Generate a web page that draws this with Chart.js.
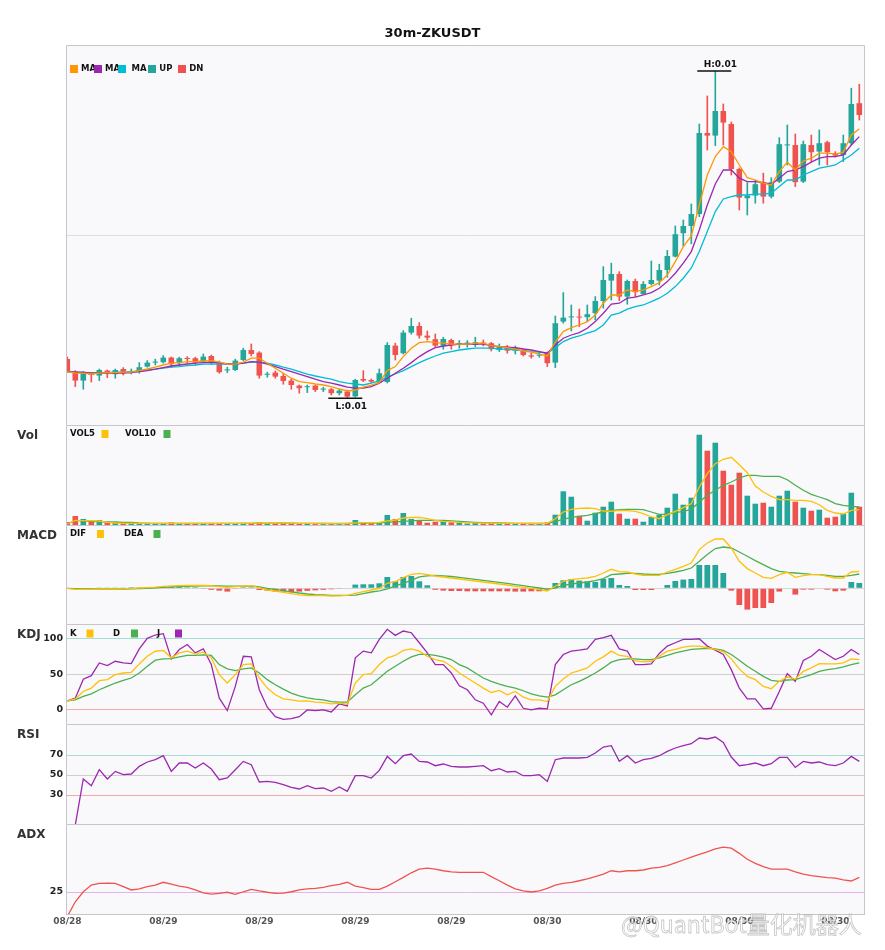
<!DOCTYPE html>
<html>
<head>
<meta charset="utf-8">
<title>30m-ZKUSDT</title>
<script src="https://cdn.jsdelivr.net/npm/chart.js@4.4.1/dist/chart.umd.min.js"></script>
<style>
  body { margin: 0; background: #fff; width: 885px; height: 950px; overflow: hidden; position: relative; }
  canvas { position: absolute; left: 0; }
  #wm { position: absolute; left: 621px; top: 906px; font: 23px "Noto Sans CJK SC", sans-serif;
        color: rgba(255,255,255,0.85); -webkit-text-stroke: 0.8px rgba(150,150,150,0.55); white-space: nowrap; }
</style>
</head>
<body>
<canvas id="cMain" width="885" height="425" style="top:0"></canvas>
<canvas id="cVol" width="885" height="100" style="top:425px"></canvas>
<canvas id="cMacd" width="885" height="99" style="top:525px"></canvas>
<canvas id="cKdj" width="885" height="100" style="top:624px"></canvas>
<canvas id="cRsi" width="885" height="100" style="top:724px"></canvas>
<canvas id="cAdx" width="885" height="126" style="top:824px"></canvas>
<div id="wm">@QuantBot量化机器人</div>
<script>
// ---- data (30m candles, 08/28 - 08/30) ----
const TICK_IDX = [0, 12, 24, 36, 48, 60, 72, 84, 96];
const TICK_LABELS = ['08/28', '08/29', '08/29', '08/29', '08/29', '08/30', '08/30', '08/30', '08/30'];

const OPEN = [
  0.009385, 0.009322, 0.009277, 0.009310, 0.009302, 0.009327, 0.009309, 0.009335, 0.009320, 0.009325,
  0.009347, 0.009367, 0.009369, 0.009392, 0.009364, 0.009390, 0.009389, 0.009372, 0.009400, 0.009369,
  0.009328, 0.009330, 0.009380, 0.009430, 0.009417, 0.009306, 0.009317, 0.009300, 0.009277, 0.009252,
  0.009244, 0.009252, 0.009232, 0.009234, 0.009214, 0.009222, 0.009198, 0.009285, 0.009280, 0.009267,
  0.009270, 0.009452, 0.009414, 0.009517, 0.009550, 0.009502, 0.009484, 0.009452, 0.009480, 0.009460,
  0.009462, 0.009455, 0.009467, 0.009464, 0.009430, 0.009447, 0.009427, 0.009430, 0.009403, 0.009402,
  0.009417, 0.009367, 0.009572, 0.009593, 0.009595, 0.009594, 0.009614, 0.009675, 0.009777, 0.009810,
  0.009697, 0.009775, 0.009710, 0.009760, 0.009777, 0.009830, 0.009897, 0.010014, 0.010050, 0.010110,
  0.010515, 0.010502, 0.010625, 0.010560, 0.010335, 0.010189, 0.010202, 0.010267, 0.010197, 0.010272,
  0.010453, 0.010455, 0.010272, 0.010455, 0.010422, 0.010469, 0.010414, 0.010405, 0.010464, 0.010664
];
const HIGH = [
  0.009395, 0.009327, 0.009322, 0.009315, 0.009335, 0.009330, 0.009335, 0.009342, 0.009335, 0.009367,
  0.009377, 0.009384, 0.009402, 0.009395, 0.009394, 0.009397, 0.009394, 0.009410, 0.009405, 0.009375,
  0.009344, 0.009384, 0.009439, 0.009460, 0.009422, 0.009319, 0.009325, 0.009314, 0.009285, 0.009255,
  0.009255, 0.009255, 0.009244, 0.009238, 0.009234, 0.009230, 0.009284, 0.009327, 0.009285, 0.009335,
  0.009467, 0.009464, 0.009527, 0.009589, 0.009567, 0.009525, 0.009510, 0.009494, 0.009485, 0.009477,
  0.009477, 0.009494, 0.009480, 0.009468, 0.009460, 0.009453, 0.009450, 0.009435, 0.009414, 0.009417,
  0.009420, 0.009600, 0.009717, 0.009655, 0.009635, 0.009655, 0.009697, 0.009847, 0.009864, 0.009822,
  0.009780, 0.009785, 0.009772, 0.009875, 0.009859, 0.009928, 0.010050, 0.010080, 0.010160, 0.010560,
  0.010700, 0.010823, 0.010660, 0.010570, 0.010340, 0.010267, 0.010280, 0.010314, 0.010292, 0.010492,
  0.010555, 0.010510, 0.010475, 0.010505, 0.010530, 0.010475, 0.010422, 0.010505, 0.010739, 0.010759
];
const LOW = [
  0.009320, 0.009247, 0.009234, 0.009270, 0.009277, 0.009292, 0.009289, 0.009305, 0.009310, 0.009314,
  0.009344, 0.009355, 0.009364, 0.009344, 0.009352, 0.009364, 0.009355, 0.009367, 0.009359, 0.009314,
  0.009317, 0.009327, 0.009377, 0.009400, 0.009289, 0.009294, 0.009289, 0.009259, 0.009234, 0.009214,
  0.009217, 0.009222, 0.009222, 0.009205, 0.009205, 0.009193, 0.009195, 0.009272, 0.009267, 0.009265,
  0.009265, 0.009380, 0.009410, 0.009509, 0.009489, 0.009480, 0.009447, 0.009434, 0.009434, 0.009439,
  0.009444, 0.009447, 0.009450, 0.009425, 0.009422, 0.009414, 0.009410, 0.009400, 0.009389, 0.009394,
  0.009347, 0.009342, 0.009564, 0.009525, 0.009547, 0.009572, 0.009580, 0.009639, 0.009680, 0.009677,
  0.009659, 0.009697, 0.009708, 0.009755, 0.009755, 0.009794, 0.009895, 0.009949, 0.009961, 0.010097,
  0.010430, 0.010452, 0.010455, 0.010305, 0.010130, 0.010105, 0.010164, 0.010164, 0.010190, 0.010267,
  0.010355, 0.010247, 0.010267, 0.010372, 0.010355, 0.010355, 0.010395, 0.010372, 0.010455, 0.010580
];
const CLOSE = [
  0.009325, 0.009277, 0.009317, 0.009305, 0.009330, 0.009314, 0.009330, 0.009317, 0.009323, 0.009344,
  0.009367, 0.009370, 0.009392, 0.009359, 0.009389, 0.009385, 0.009367, 0.009397, 0.009369, 0.009319,
  0.009331, 0.009377, 0.009430, 0.009410, 0.009302, 0.009310, 0.009297, 0.009275, 0.009255, 0.009239,
  0.009247, 0.009230, 0.009234, 0.009214, 0.009227, 0.009197, 0.009280, 0.009277, 0.009272, 0.009314,
  0.009455, 0.009405, 0.009517, 0.009550, 0.009502, 0.009492, 0.009452, 0.009485, 0.009455, 0.009464,
  0.009465, 0.009469, 0.009460, 0.009434, 0.009447, 0.009427, 0.009442, 0.009405, 0.009397, 0.009405,
  0.009364, 0.009564, 0.009592, 0.009594, 0.009592, 0.009609, 0.009675, 0.009780, 0.009810, 0.009697,
  0.009775, 0.009719, 0.009760, 0.009780, 0.009830, 0.009900, 0.010009, 0.010050, 0.010110, 0.010515,
  0.010502, 0.010625, 0.010567, 0.010335, 0.010192, 0.010202, 0.010259, 0.010197, 0.010269, 0.010459,
  0.010455, 0.010269, 0.010459, 0.010419, 0.010464, 0.010419, 0.010402, 0.010464, 0.010660, 0.010605
];
const MA5 = [
  0.009322, 0.009314, 0.009314, 0.009310, 0.009314, 0.009317, 0.009317, 0.009319, 0.009319, 0.009327,
  0.009335, 0.009344, 0.009355, 0.009364, 0.009367, 0.009372, 0.009372, 0.009375, 0.009377, 0.009369,
  0.009359, 0.009359, 0.009369, 0.009389, 0.009389, 0.009364, 0.009339, 0.009314, 0.009289, 0.009272,
  0.009267, 0.009260, 0.009255, 0.009247, 0.009235, 0.009225, 0.009230, 0.009244, 0.009254, 0.009267,
  0.009327, 0.009347, 0.009397, 0.009439, 0.009467, 0.009472, 0.009467, 0.009464, 0.009459, 0.009459,
  0.009459, 0.009464, 0.009464, 0.009452, 0.009447, 0.009442, 0.009434, 0.009425, 0.009419, 0.009409,
  0.009400, 0.009470, 0.009522, 0.009542, 0.009555, 0.009572, 0.009605, 0.009664, 0.009705, 0.009705,
  0.009730, 0.009722, 0.009730, 0.009747, 0.009767, 0.009805, 0.009872, 0.009947, 0.010000, 0.010155,
  0.010305, 0.010397, 0.010447, 0.010422, 0.010355, 0.010292, 0.010280, 0.010264, 0.010255, 0.010322,
  0.010369, 0.010330, 0.010375, 0.010389, 0.010414, 0.010414, 0.010409, 0.010419, 0.010505, 0.010535
];
const MA10 = [
  0.009322, 0.009319, 0.009319, 0.009314, 0.009314, 0.009314, 0.009314, 0.009314, 0.009317, 0.009322,
  0.009327, 0.009334, 0.009342, 0.009350, 0.009355, 0.009360, 0.009364, 0.009367, 0.009369, 0.009367,
  0.009360, 0.009360, 0.009364, 0.009372, 0.009369, 0.009359, 0.009347, 0.009334, 0.009322, 0.009309,
  0.009297, 0.009284, 0.009272, 0.009264, 0.009255, 0.009244, 0.009239, 0.009239, 0.009247, 0.009264,
  0.009289, 0.009314, 0.009339, 0.009367, 0.009397, 0.009422, 0.009442, 0.009450, 0.009455, 0.009459,
  0.009459, 0.009460, 0.009459, 0.009452, 0.009447, 0.009444, 0.009442, 0.009435, 0.009430, 0.009422,
  0.009414, 0.009455, 0.009489, 0.009505, 0.009517, 0.009539, 0.009572, 0.009614, 0.009660, 0.009664,
  0.009689, 0.009694, 0.009705, 0.009717, 0.009739, 0.009772, 0.009814, 0.009864, 0.009922, 0.010030,
  0.010155, 0.010260, 0.010330, 0.010330, 0.010289, 0.010272, 0.010272, 0.010267, 0.010259, 0.010289,
  0.010322, 0.010330, 0.010347, 0.010369, 0.010389, 0.010397, 0.010397, 0.010405, 0.010455, 0.010497
];
const MA20 = [
  0.009322, 0.009319, 0.009317, 0.009317, 0.009317, 0.009317, 0.009319, 0.009319, 0.009322, 0.009325,
  0.009330, 0.009334, 0.009339, 0.009344, 0.009347, 0.009352, 0.009355, 0.009359, 0.009360, 0.009360,
  0.009359, 0.009359, 0.009364, 0.009369, 0.009369, 0.009364, 0.009355, 0.009344, 0.009334, 0.009322,
  0.009309, 0.009300, 0.009292, 0.009284, 0.009272, 0.009264, 0.009260, 0.009255, 0.009264, 0.009275,
  0.009294, 0.009310, 0.009327, 0.009347, 0.009367, 0.009384, 0.009400, 0.009414, 0.009422, 0.009430,
  0.009435, 0.009439, 0.009439, 0.009439, 0.009435, 0.009434, 0.009430, 0.009427, 0.009422, 0.009419,
  0.009414, 0.009442, 0.009472, 0.009489, 0.009500, 0.009514, 0.009527, 0.009555, 0.009605, 0.009614,
  0.009634, 0.009647, 0.009655, 0.009672, 0.009689, 0.009714, 0.009747, 0.009789, 0.009840, 0.009922,
  0.010022, 0.010122, 0.010185, 0.010197, 0.010205, 0.010205, 0.010209, 0.010209, 0.010214, 0.010247,
  0.010280, 0.010280, 0.010305, 0.010322, 0.010339, 0.010347, 0.010355, 0.010380, 0.010405, 0.010439
];

// volume (relative units)
const VOL = [
  3, 9, 6, 3, 5, 2.3, 2.7, 2.3, 1.5, 2,
  2.2, 1.3, 1.8, 2.5, 1.5, 1.2, 1.6, 1.8, 1.5, 2,
  1.2, 1.8, 2.2, 1.5, 2.8, 1.2, 1.5, 2.2, 1.8, 1.5,
  1.2, 1.5, 1.2, 1.6, 1.4, 1.8, 5, 1.8, 1.5, 2.5,
  10, 6, 12, 6, 5, 2.3, 3.3, 4, 2.7, 2.3,
  1.5, 2, 1.3, 2, 1.5, 1.8, 1.3, 1.8, 1.2, 1.5,
  2.5, 10.3, 33.7, 28.3, 9.3, 4.3, 12.3, 18.3, 23.3, 11.3,
  6.3, 6.3, 3.3, 8, 10.3, 17.3, 31.3, 20.3, 27.3, 90.3,
  74.3, 82.3, 54.3, 40.3, 52.3, 29.3, 21.3, 22.3, 18.3, 29.3,
  34.3, 23.3, 17.3, 14.3, 15.3, 7.3, 8.3, 11.3, 32.3, 18.3
];
const VOL5 = [
  1, 4.7, 4.3, 4.3, 4, 2.7, 2, 1.7, 1.7, 1.7,
  1.7, 1.7, 1.7, 1.7, 1.7, 1.6, 1.6, 1.6, 1.6, 1.6,
  1.6, 1.6, 1.7, 1.8, 2, 2, 2, 2, 1.8, 1.7,
  1.6, 1.5, 1.5, 1.4, 1.4, 1.5, 2.2, 2.3, 2.3, 2.5,
  4.2, 5, 7, 7.5, 7.7, 6.3, 4.7, 3.7, 3.3, 2.7,
  2.4, 2.2, 1.8, 1.8, 1.6, 1.6, 1.6, 1.6, 1.5, 1.5,
  1.7, 6.3, 13, 15.7, 16.7, 17, 16.3, 14, 13.7, 14.7,
  14.3, 13.7, 11.3, 8, 6.3, 10.3, 13.7, 17.3, 21.3, 38,
  51.3, 61.3, 65.7, 67.7, 60.3, 52.3, 39, 33, 28.7, 25.3,
  25.3, 24.7, 24.7, 23.7, 20.3, 14.7, 12, 11, 14.7, 15.3
];
const VOL10 = [
  1, 4.3, 4.3, 3.3, 3.3, 3, 3, 2.7, 2.7, 2,
  1.7, 1.5, 1.5, 1.5, 1.5, 1.5, 1.5, 1.5, 1.5, 1.6,
  1.6, 1.6, 1.6, 1.7, 1.8, 1.8, 1.8, 1.8, 1.8, 1.7,
  1.7, 1.6, 1.6, 1.5, 1.5, 1.5, 1.8, 1.9, 2, 2.2,
  2.7, 3.2, 3.7, 4.2, 4.7, 4.7, 4.7, 4.5, 4, 3.5,
  3, 2.6, 2.3, 2.1, 2, 1.8, 1.7, 1.6, 1.5, 1.5,
  1.5, 3.7, 5.7, 7.7, 8.7, 9.7, 11.3, 13, 14.3, 15.3,
  15.7, 15.7, 15.3, 13, 10.7, 10.7, 12.3, 13.7, 15.7, 23,
  29.7, 34.7, 39.7, 43, 47, 49.7, 49.7, 48.7, 48.7, 48.7,
  45.3, 39.7, 34.7, 30.7, 28, 25.3, 21.3, 19.7, 18.7, 18
];

// MACD (relative units)
const DIF = [
  0, -1, -1, -1, -0.7, -0.7, -0.7, -0.5, 0, 0.3,
  0.7, 1.2, 2, 2.5, 2.7, 2.8, 2.8, 3, 2.7, 1.7,
  1, 1.7, 2.3, 2.7, 0.5, -1.7, -2.7, -4, -5.3, -6.5,
  -7.2, -7.3, -7.3, -7.7, -7.5, -7, -5, -3.3, -1.7, 0,
  5, 6.7, 10.7, 14, 15, 13.7, 12.3, 11.3, 10.3, 9.3,
  8.3, 7.3, 6.3, 5.3, 4.3, 3.3, 2, 1, 0, -1.3,
  -2.7, 2, 7, 8.7, 9.7, 10.3, 12, 15.3, 19, 16.7,
  16.3, 14.3, 13, 13, 13, 16.3, 19, 22, 25.3, 38.7,
  45.3, 49.3, 49.3, 40.3, 27, 19.7, 15.3, 11, 10, 13.7,
  16, 11, 12.7, 13.7, 13.7, 12, 10.3, 10.3, 16.3, 17
];
const DEA = [
  0, -0.3, -0.5, -0.6, -0.7, -0.7, -0.7, -0.7, -0.5, -0.3,
  0, 0.5, 1, 1.3, 1.7, 2, 2.3, 2.5, 2.7, 2.5,
  2.2, 2.1, 2.2, 2.3, 1.5, 0, -1, -2.3, -3.5, -4.7,
  -5.7, -6.3, -6.7, -7, -7.1, -7, -6.8, -5.3, -3.7, -2.5,
  -0.7, 2.5, 5, 8, 11.5, 12.5, 13, 12.5, 11.8, 10.9,
  9.9, 8.9, 7.9, 6.9, 5.9, 4.9, 3.7, 2.6, 1.5, 0.3,
  -0.9, 0.3, 3, 4.3, 5.3, 6.3, 7.7, 9.7, 13.7, 14.3,
  15, 15, 14.3, 14, 14, 15, 16.3, 18, 20.3, 27,
  33.7, 39.7, 41.3, 40.3, 36.3, 32, 27.7, 23.7, 19.7, 17,
  16, 15.3, 14.7, 14, 13.7, 13, 12, 12, 13, 14.3
];
const MACD = [
  -0.7, -0.7, -0.7, -0.7, 0.7, 0.7, 0.7, 0.7, 1, 1,
  1.3, 1.3, 1.3, 1.3, 1.3, 1, 1, -0.7, -1.5, -2.3,
  -3.3, -0.7, 1, 1, -1.7, -2.3, -3.3, -3.3, -4, -3.3,
  -2.5, -2, -1.5, -1, -0.7, 0, 3.7, 4, 4, 5,
  11.3, 7, 11.3, 12.3, 7, 3, -1.5, -2.3, -2.7, -2.7,
  -3, -3, -3, -3, -3, -3, -3.3, -3.3, -3, -3,
  -1.3, 5.3, 8, 9.3, 7.7, 7, 6.3, 9.3, 10.3, 3.3,
  2.3, -1.7, -1.7, -1.7, 0, 3.3, 7.3, 8.7, 9.3, 23.3,
  23.3, 23.3, 15.3, -2.3, -16.7, -21.3, -19.7, -19.7, -14.7, -3.3,
  0, -6.3, -1.3, -1.3, 0, -1.3, -3, -2.3, 6.3, 5.3
];

// KDJ
const K = [
  12.7, 15.4, 25.8, 30.5, 40.8, 42.3, 49.3, 51.6, 52.6, 64.3,
  75, 82, 83.1, 72.8, 79.8, 82.2, 78.4, 80.8, 72.8, 49.3,
  37.6, 49.3, 63.4, 64.3, 44.6, 30.5, 21.1, 15.5, 14.1, 12.2,
  12.7, 10.8, 10.3, 8.5, 9.4, 8, 37.6, 49.3, 50.7, 63.4,
  72.8, 76.1, 83.1, 85.4, 82.2, 75, 70.4, 68, 61, 51.6,
  44.6, 37.6, 30.5, 24.4, 27.2, 21.1, 25.8, 17.8, 14.1, 14.1,
  11.7, 32.9, 43.2, 51.6, 54.9, 58.7, 68, 74.2, 82.2, 76.1,
  75, 69, 67.1, 68, 75, 82.2, 84.5, 87.8, 89.2, 89.2,
  86.9, 84.5, 81.2, 71.4, 57.3, 46.9, 42.3, 32.9, 29.6, 39.9,
  46, 43.2, 54, 58.7, 64.8, 64.3, 64.3, 65.7, 71.4, 70.4
];
const D = [
  12.7, 14, 18.8, 22.5, 28.2, 32.9, 37.6, 41.3, 44.6, 51.6,
  61, 69.5, 71.4, 71.8, 74.2, 76.1, 76.1, 77, 76.1, 63.4,
  57.3, 54.9, 57.3, 58.7, 51.6, 42.3, 35.2, 29.1, 23.5, 19.7,
  16.9, 15.1, 14.1, 11.7, 10.8, 10.8, 21.1, 30.5, 35.2, 44.6,
  54, 61, 68, 74.2, 77.5, 77.5, 76.1, 73.7, 70.4, 63.4,
  58.7, 51.6, 44.6, 39.9, 36.2, 32.9, 30.5, 26.8, 22.5, 19.7,
  17.8, 21.1, 28.2, 35.2, 39.9, 45.5, 51.6, 58.7, 66.7, 70.4,
  71.4, 71.4, 70.4, 70.4, 72.8, 76.1, 79.8, 82.2, 84.5, 85.4,
  86, 85.4, 83.1, 77.5, 69.5, 61, 54, 46.9, 41.3, 39.9,
  41.8, 42.3, 46, 49.3, 54, 56.3, 57.7, 60.1, 63.4, 65.7
];
const J = [
  12.7, 16.4, 43, 47.9, 65.7, 62, 68, 65.7, 64.8, 85.4,
  100, 104.7, 106.6, 71.4, 84.5, 91.5, 79.8, 85.4, 63.4, 16.4,
  -1, 32.9, 75, 74.2, 28.2, 3.8, -9.4, -13.1, -12.2, -9.4,
  0, -1, 0, -2.8, 8.5, 5.6, 72.8, 82.2, 79.8, 98.6,
  112.7, 104.2, 110.3, 107.9, 93.9, 79.8, 63.4, 63.4, 51.6, 33.8,
  28.2, 14.1, 9.4, -7, 11.7, 3.8, 19.7, 2.3, 0, 2.3,
  1.4, 63.4, 77.5, 82.2, 83.6, 85.4, 98.6, 101, 104.2, 85.4,
  82.2, 63.4, 63.4, 64.3, 78.9, 89.2, 93.9, 98.6, 98.6, 99.5,
  89.2, 83.6, 77.5, 56.3, 30.5, 15.5, 15.5, 1.4, 2.3, 25.8,
  50.7, 39.9, 69, 75, 84.5, 77.5, 70.4, 75, 84.5, 77.5
];

const RSI = [
  null, 0, 46, 39.3, 55.3, 46, 53.6, 50.3, 51, 58.6,
  63, 65.3, 69.3, 53.6, 62, 62, 57, 62, 56, 45.3,
  47, 55.3, 63.6, 60.3, 43, 43.6, 42.6, 40.3, 37.6, 36,
  39.3, 36.3, 37, 33.6, 38, 33.6, 49.3, 49.3, 47, 54.6,
  68.6, 61.3, 69.3, 71, 63.6, 63, 59.3, 61, 58.6, 58,
  58, 58.6, 59.3, 54.3, 56.3, 53, 53.6, 49.3, 49.3, 50.3,
  43.6, 65.3, 67, 67, 67, 67.6, 72, 78, 79.3, 63.6,
  69.3, 62, 65.3, 66.6, 69.3, 73.6, 77, 79.3, 81.3, 87,
  86, 88, 82.6, 68, 59.3, 60.3, 62, 59.3, 61.3, 67.6,
  67.6, 57.6, 63.6, 62, 63, 60.3, 59.3, 62, 68.6, 63.6
];
const ADX = [
  15.4, 21.2, 25.1, 27.7, 28.4, 28.5, 28.4, 27.1, 25.8, 26.2,
  27.1, 27.7, 28.8, 28.1, 27.3, 26.8, 25.8, 24.7, 24.2, 24.5,
  24.9, 24.1, 25.1, 26, 25.4, 24.9, 24.5, 24.6, 25.1, 25.8,
  26.2, 26.4, 26.8, 27.5, 28, 28.8, 27.3, 26.7, 26, 26,
  27.3, 29, 30.7, 32.5, 33.9, 34.3, 33.9, 33.3, 32.9, 32.7,
  32.7, 32.7, 32.7, 31, 29.4, 27.7, 26.2, 25.4, 25, 25.4,
  26.4, 27.7, 28.4, 28.8, 29.4, 30.1, 31, 32, 33.3, 32.9,
  33.3, 33.3, 33.6, 34.3, 34.6, 35.3, 36.4, 37.5, 38.6, 39.7,
  40.7, 41.8, 42.5, 42.1, 40.1, 37.8, 36.2, 34.9, 33.9, 33.9,
  33.9, 32.9, 32, 31.4, 31, 30.6, 30.4, 29.7, 29.3, 30.7
];

// ---- styling ----
const UP = '#26a69a', DN = '#ef5350';
const C_MA5 = '#ff9800', C_MA10 = '#9c27b0', C_MA20 = '#00bcd4';
const C_Y = '#ffc107', C_G = '#4caf50', C_P = '#9c27b0';
const X_MIN = -0.1625, X_MAX = 99.7125;
const FONT = '"DejaVu Sans", sans-serif';

Chart.defaults.font.family = FONT;
Chart.defaults.color = '#333';

const idx = CLOSE.map((_, i) => i);
const pts = arr => arr.map((v, i) => ({ x: i, y: v }));
const candleColor = idx.map(i => (CLOSE[i] >= OPEN[i] ? UP : DN));

const panelPlugin = {
  id: 'panel',
  beforeDraw(chart) {
    const { ctx, chartArea: a } = chart;
    ctx.save();
    ctx.fillStyle = '#f9f9fb';
    ctx.fillRect(a.left, a.top, a.right - a.left, a.bottom - a.top);
    ctx.restore();
  },
  afterDraw(chart, args, o) {
    const { ctx, chartArea: a } = chart;
    ctx.save();
    ctx.strokeStyle = '#c6c6ce';
    ctx.lineWidth = 1;
    ctx.beginPath();
    ctx.moveTo(a.left + 0.5, a.bottom);
    ctx.lineTo(a.left + 0.5, a.top + 0.5);
    ctx.lineTo(a.right - 0.5, a.top + 0.5);
    ctx.lineTo(a.right - 0.5, a.bottom);
    if (o.closeBottom) {
      ctx.moveTo(a.left, a.bottom - 0.5);
      ctx.lineTo(a.right, a.bottom - 0.5);
    }
    ctx.stroke();
    ctx.textBaseline = 'middle';
    ctx.textAlign = 'left';
    if (o.label) {
      ctx.fillStyle = '#333';
      ctx.font = 'bold 12px ' + FONT;
      ctx.fillText(o.label, 17, a.top + 11);
    }
    if (o.legend) {
      const L = o.legend;
      ctx.font = 'bold 8.5px ' + FONT;
      L.items.forEach(it => {
        ctx.fillStyle = '#111';
        ctx.fillText(it.text, it.tx, a.top + L.y);
        ctx.fillStyle = it.color;
        ctx.fillRect(it.bx, a.top + L.y - L.bh / 2, L.bw, L.bh);
      });
    }
    ctx.restore();
  }
};

const hlPlugin = {
  id: 'hl',
  afterDatasetsDraw(chart) {
    const { ctx, scales: { x, y } } = chart;
    let hi = 0, lo = 0;
    idx.forEach(i => { if (HIGH[i] > HIGH[hi]) hi = i; if (LOW[i] < LOW[lo]) lo = i; });
    const hx = x.getPixelForValue(hi), hy = y.getPixelForValue(HIGH[hi]);
    const lx = x.getPixelForValue(lo), ly = y.getPixelForValue(LOW[lo]);
    ctx.save();
    ctx.strokeStyle = '#111';
    ctx.lineWidth = 1.5;
    ctx.beginPath();
    ctx.moveTo(hx - 18, hy - 0.5); ctx.lineTo(hx + 16, hy - 0.5);
    ctx.moveTo(lx - 19, ly + 0.8); ctx.lineTo(lx + 15, ly + 0.8);
    ctx.stroke();
    ctx.fillStyle = '#111';
    ctx.font = 'bold 9px ' + FONT;
    ctx.textAlign = 'center';
    ctx.textBaseline = 'middle';
    ctx.fillText('H:' + HIGH[hi].toFixed(2), hx + 5, hy - 6.5);
    ctx.fillText('L:' + LOW[lo].toFixed(2), lx + 4, ly + 9);
    ctx.restore();
  }
};

function xScale(show) {
  const s = {
    type: 'linear', min: X_MIN, max: X_MAX, offset: false, display: show,
    grid: { display: false, drawTicks: false }, border: { display: false }
  };
  if (show) {
    s.afterBuildTicks = sc => { sc.ticks = TICK_IDX.map(v => ({ value: v })); };
    s.afterFit = sc => { sc.height = 35; sc.paddingLeft = 0; sc.paddingRight = 0; };
    s.ticks = {
      autoSkip: false, maxRotation: 0, padding: 1, color: '#555',
      font: { size: 9, weight: 'bold' },
      callback: v => TICK_LABELS[TICK_IDX.indexOf(v)]
    };
  }
  return s;
}

function yScale(min, max, ticks, gridColors, showLabels) {
  return {
    min, max,
    afterFit: sc => { sc.width = 66; sc.paddingTop = 0; sc.paddingBottom = 0; },
    afterBuildTicks: sc => { sc.ticks = ticks.map(v => ({ value: v })); },
    border: { display: false },
    grid: {
      display: ticks.length > 0, drawTicks: false,
      color: c => gridColors[ticks.indexOf(c.tick.value)] || '#ddd'
    },
    ticks: {
      display: showLabels, padding: 3, color: '#222',
      font: { size: 9.5, weight: 'bold' },
      callback: v => String(v)
    }
  };
}

function baseOptions(o) {
  return {
    responsive: false,
    animation: false,
    events: [],
    layout: { padding: { left: 0, right: 20, top: 0, bottom: 0 } },
    plugins: {
      legend: { display: false },
      tooltip: { enabled: false },
      title: o.title || { display: false },
      panel: o.panel
    },
    scales: { x: xScale(!!o.showX), y: o.y }
  };
}

function line(data, color, order) {
  return {
    type: 'line', data: pts(data), borderColor: color, borderWidth: 1.3,
    pointRadius: 0, tension: 0, fill: false, spanGaps: true, order: order || 0
  };
}

// ---- main candlestick panel ----
new Chart(document.getElementById('cMain'), {
  type: 'bar',
  data: {
    datasets: [
      line(MA5, C_MA5), line(MA10, C_MA10), line(MA20, C_MA20),
      {
        type: 'bar', data: idx.map(i => ({ x: i, y: [OPEN[i], CLOSE[i]] })),
        backgroundColor: candleColor, borderWidth: 0, grouped: false,
        barPercentage: 0.7, categoryPercentage: 1, minBarLength: 1, order: 1
      },
      {
        type: 'bar', data: idx.map(i => ({ x: i, y: [LOW[i], HIGH[i]] })),
        backgroundColor: candleColor, borderWidth: 0, grouped: false,
        barThickness: 1, order: 2
      }
    ]
  },
  options: baseOptions({
    title: {
      display: true, text: '30m-ZKUSDT', color: '#111',
      font: { size: 13, weight: 'bold' }, padding: { top: 26, bottom: 3.4 }
    },
    y: yScale(0.009055, 0.010955, [0.01], ['#dedede'], false),
    panel: {
      legend: {
        y: 24, bw: 8, bh: 8,
        items: [
          { text: 'MA', tx: 81, bx: 70, color: C_MA5 },
          { text: 'MA', tx: 105, bx: 94, color: C_MA10 },
          { text: 'MA', tx: 131.5, bx: 118, color: C_MA20 },
          { text: 'UP', tx: 159.3, bx: 148, color: UP },
          { text: 'DN', tx: 189.3, bx: 178, color: DN }
        ]
      }
    }
  }),
  plugins: [panelPlugin, hlPlugin]
});

// ---- volume ----
new Chart(document.getElementById('cVol'), {
  type: 'bar',
  data: {
    datasets: [
      line(VOL5, C_Y), line(VOL10, C_G),
      {
        type: 'bar', data: pts(VOL), backgroundColor: candleColor, borderWidth: 0,
        barPercentage: 0.7, categoryPercentage: 1, order: 1
      }
    ]
  },
  options: baseOptions({
    y: yScale(0, 100, [], [], false),
    panel: {
      label: 'Vol',
      legend: {
        y: 9, bw: 7, bh: 8,
        items: [
          { text: 'VOL5', tx: 70, bx: 101.5, color: C_Y },
          { text: 'VOL10', tx: 125, bx: 163.5, color: C_G }
        ]
      }
    }
  }),
  plugins: [panelPlugin]
});

// ---- MACD ----
new Chart(document.getElementById('cMacd'), {
  type: 'bar',
  data: {
    datasets: [
      line(DIF, C_Y), line(DEA, C_G),
      {
        type: 'bar', data: pts(MACD), backgroundColor: MACD.map(v => (v >= 0 ? UP : DN)),
        borderWidth: 0, barPercentage: 0.72, categoryPercentage: 1, order: 1
      }
    ]
  },
  options: baseOptions({
    y: yScale(-35.7, 63.3, [0], ['#d6d6d6'], false),
    panel: {
      label: 'MACD',
      legend: {
        y: 9, bw: 7, bh: 8,
        items: [
          { text: 'DIF', tx: 70, bx: 97, color: C_Y },
          { text: 'DEA', tx: 124, bx: 153.5, color: C_G }
        ]
      }
    }
  }),
  plugins: [panelPlugin]
});

// ---- KDJ ----
new Chart(document.getElementById('cKdj'), {
  type: 'line',
  data: { datasets: [line(K, C_Y), line(D, C_G), line(J, C_P)] },
  options: baseOptions({
    y: yScale(-19.7, 120.1, [0, 50, 100], ['#f4a9a9', '#cfcfcf', '#a6dbd5'], true),
    panel: {
      label: 'KDJ',
      legend: {
        y: 9.5, bw: 7, bh: 8,
        items: [
          { text: 'K', tx: 70, bx: 86.5, color: C_Y },
          { text: 'D', tx: 113, bx: 131, color: C_G },
          { text: 'J', tx: 157, bx: 175, color: C_P }
        ]
      }
    }
  }),
  plugins: [panelPlugin]
});

// ---- RSI ----
new Chart(document.getElementById('cRsi'), {
  type: 'line',
  data: { datasets: [line(RSI, C_P)] },
  options: baseOptions({
    y: yScale(1, 101, [30, 50, 70], ['#f4a9a9', '#cfcfcf', '#a6dbd5'], true),
    panel: { label: 'RSI' }
  }),
  plugins: [panelPlugin]
});

// ---- ADX ----
new Chart(document.getElementById('cAdx'), {
  type: 'line',
  data: { datasets: [line(ADX, DN)] },
  options: baseOptions({
    showX: true,
    y: yScale(16.02, 51.56, [25], ['#e2b4ea'], true),
    panel: { label: 'ADX', closeBottom: true }
  }),
  plugins: [panelPlugin]
});
</script>
</body>
</html>
